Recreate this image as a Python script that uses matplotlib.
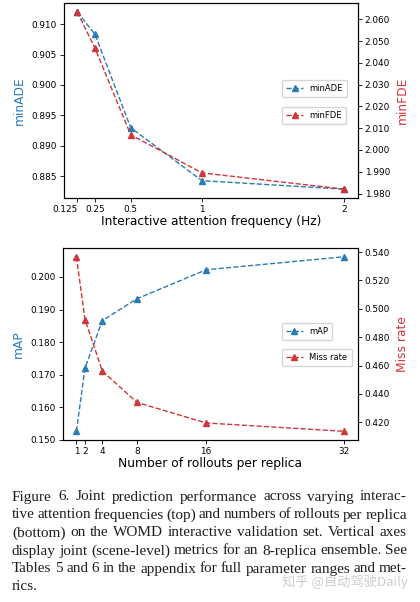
import matplotlib
matplotlib.use('Agg')
import matplotlib.pyplot as plt
from matplotlib.ticker import FormatStrFormatter, MultipleLocator

# top panel: interactive attention frequency
freq_hz = [0.125, 0.25, 0.5, 1, 2]
min_ade = [0.9120, 0.9083, 0.8930, 0.8843, 0.8829]
min_fde = [2.0634, 2.0467, 2.0070, 1.9895, 1.9820]

# bottom panel: rollouts per replica
rollouts = [1, 2, 4, 8, 16, 32]
map_vals = [0.1526, 0.1721, 0.1866, 0.1933, 0.2022, 0.2062]
miss_rate = [0.5367, 0.4923, 0.4561, 0.4340, 0.4195, 0.4136]

caption_lines = [
    "Figure 6.  Joint prediction performance across varying interac-",
    "tive attention frequencies (top) and numbers of rollouts per replica",
    "(bottom) on the WOMD interactive validation set.  Vertical axes",
    "display joint (scene-level) metrics for an 8-replica ensemble.  See",
    "Tables 5 and 6 in the appendix for full parameter ranges and met-",
    "rics.",
]

BLUE = '#2b7bb4'
RED = '#d0353a'
TICK_FS = 6.4
LABEL_FS = 8.8
LEG_FS = 6

fig = plt.figure(figsize=(4.2, 6.02), dpi=100)
fig.patch.set_facecolor('white')


def twin_panel(rect, x, y1, y2, lab1, lab2, xlabel, xticks, xticklabels,
               fmt_left, fmt_right, step_left, step_right, leg_pos):
    ax = fig.add_axes(rect)
    ax2 = ax.twinx()
    l1, = ax.plot(x, y1, '--^', color=BLUE, lw=1, ms=4, label=lab1)
    l2, = ax2.plot(x, y2, '--^', color=RED, lw=1, ms=4, label=lab2)
    ax.set_xticks(xticks)
    ax.set_xticklabels(xticklabels)
    ax.yaxis.set_major_locator(MultipleLocator(step_left))
    ax2.yaxis.set_major_locator(MultipleLocator(step_right))
    ax.yaxis.set_major_formatter(FormatStrFormatter(fmt_left))
    ax2.yaxis.set_major_formatter(FormatStrFormatter(fmt_right))
    for a in (ax, ax2):
        a.tick_params(labelsize=TICK_FS, length=3, width=0.6, pad=2)
        for s in a.spines.values():
            s.set_linewidth(0.8)
    ax.set_xlabel(xlabel, fontsize=LABEL_FS, labelpad=1)
    ax.set_ylabel(lab1, fontsize=LABEL_FS, color=BLUE, labelpad=4)
    ax2.set_ylabel(lab2, fontsize=LABEL_FS, color=RED, labelpad=4)
    ax.legend(handles=[l1], loc='center left', bbox_to_anchor=leg_pos[0],
              fontsize=LEG_FS, handlelength=2.0, borderpad=0.5)
    ax2.legend(handles=[l2], loc='center left', bbox_to_anchor=leg_pos[1],
               fontsize=LEG_FS, handlelength=2.0, borderpad=0.5)
    return ax, ax2


top, top2 = twin_panel([0.152, 0.671, 0.700, 0.324], freq_hz, min_ade, min_fde,
                       'minADE', 'minFDE', 'Interactive attention frequency (Hz)',
                       freq_hz, ['0.125', '0.25', '0.5', '1', '2'],
                       '%.3f', '%.3f', 0.005, 0.010,
                       [(0.728, 0.562), (0.728, 0.423)])
# the reference keeps "0.125" clear of "0.25" by right-aligning it
top.get_xticklabels()[0].set_ha('right')

twin_panel([0.150, 0.269, 0.702, 0.319], rollouts, map_vals, miss_rate,
           'mAP', 'Miss rate', 'Number of rollouts per replica',
           rollouts, [str(r) for r in rollouts],
           '%.3f', '%.3f', 0.010, 0.020,
           [(0.728, 0.565), (0.728, 0.430)])

# caption, justified line by line
renderer = fig.canvas.get_renderer()
W, H = fig.bbox.width, fig.bbox.height
left_px, right_px = 12, 407
y0_px, dy_px = 497, 18
cap_kw = dict(fontsize=11.0, family='Liberation Serif', color='#1e1e1e',
              va='center', ha='left')
for i, line in enumerate(caption_lines):
    y = 1 - (y0_px + i * dy_px) / H
    if i == len(caption_lines) - 1:
        fig.text(left_px / W, y, line, **cap_kw)
        continue
    words = line.split()
    texts = [fig.text(0, y, w, **cap_kw) for w in words]
    widths = [t.get_window_extent(renderer).width for t in texts]
    gap = (right_px - left_px - sum(widths)) / (len(words) - 1)
    xpos = left_px
    for t, w in zip(texts, widths):
        t.set_x(xpos / W)
        xpos += w + gap

fig.text(282 / W, 1 - 582 / H, '知乎 @自动驾驶Daily', fontsize=9.5,
         family=['Noto Sans CJK SC', 'DejaVu Sans'], color='#c4c4c4',
         va='center', ha='left', alpha=0.85)

fig.savefig('out.png', dpi=100, facecolor='white')
